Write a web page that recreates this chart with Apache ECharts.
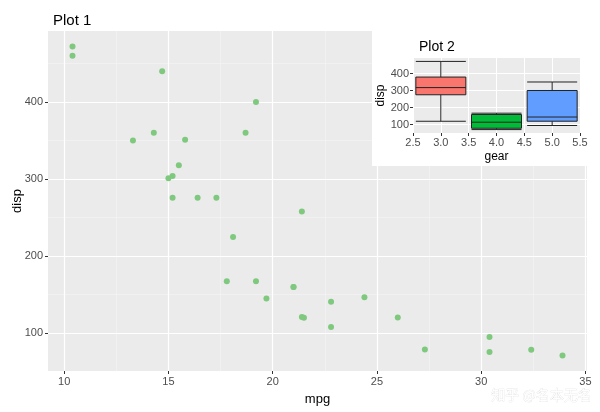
<!DOCTYPE html>
<html>
<head>
<meta charset="UTF-8">
<script src="https://cdn.jsdelivr.net/npm/echarts@6/dist/echarts.min.js"></script>
<style>body{margin:0}#main{width:600px;height:412px}</style>
</head>
<body>
<div id="main"></div>
<script>
var mpg = [21.0,21.0,22.8,21.4,18.7,18.1,14.3,24.4,22.8,19.2,17.8,16.4,17.3,15.2,10.4,10.4,14.7,32.4,30.4,33.9,21.5,15.5,15.2,13.3,19.2,27.3,26.0,30.4,15.8,19.7,15.0,21.4];
var disp = [160,160,108,258,360,225,360,146.7,140.8,167.6,167.6,275.8,275.8,275.8,472,460,440,78.7,75.7,71.1,120.1,318,304,350,400,79,120.3,95.1,351,145,301,121];
var gears = ['3', '4', '5'];
// [min, Q1, median, Q3, max]
var boxStats = [
  [120.1, 275.8, 318, 380, 472],
  [71.1, 78.9, 114.5, 160, 167.6],
  [95.1, 120.3, 145, 301, 351]
];
var boxColors = ['#F8766D', '#00BA38', '#619CFF'];
var mpgTicks = [10, 15, 20, 25, 30, 35];
var mpgMinor = [12.5, 17.5, 22.5, 27.5, 32.5];
var dispTicks = [100, 200, 300, 400];
var dispMinor = [50, 150, 250, 350, 450];
var insetDispTicks = [100, 200, 300, 400];

var points = mpg.map(function (m, i) { return [m, disp[i]]; });
var font = 'Liberation Sans';
var chart = echarts.init(document.getElementById('main'));
var lbl = {color: '#4d4d4d', fontSize: 11, fontFamily: font};
var minorAxis = function (grid, vals, min, max) {
  return {type: 'value', gridIndex: grid, min: min, max: max, axisLine: {show: false},
    axisTick: {show: true, length: 0, customValues: vals}, axisLabel: {show: false, customValues: vals},
    splitLine: {lineStyle: {color: '#f4f4f4', width: 0.7}}};
};
chart.setOption({
  backgroundColor: '#fff',
  animation: false,
  textStyle: {fontFamily: font},
  title: [
    {text: 'Plot 1', left: 48, top: 8, textStyle: {fontSize: 15, fontWeight: 'normal', color: '#000'}},
    {text: 'Plot 2', left: 414, top: 35, textStyle: {fontSize: 14, fontWeight: 'normal', color: '#000'}}
  ],
  grid: [
    {left: 48, right: 13, top: 31, bottom: 41, show: true, backgroundColor: '#EBEBEB', borderWidth: 0, containLabel: false, outerBoundsMode: 'none'},
    {left: 413, right: 20, top: 58, bottom: 279, show: true, backgroundColor: '#EBEBEB', borderWidth: 0, z: 5, containLabel: false, outerBoundsMode: 'none'}
  ],
  xAxis: [
    {type: 'value', gridIndex: 0, min: 9.225, max: 35.075,
     name: 'mpg', nameLocation: 'middle', nameGap: 22, nameTextStyle: {fontSize: 13, color: '#000'},
     axisLine: {show: false}, axisTick: {lineStyle: {color: '#333'}, length: 3, customValues: mpgTicks},
     axisLabel: Object.assign({margin: 5, customValues: mpgTicks}, lbl),
     splitLine: {lineStyle: {color: '#fff', width: 1.2}}, z: 3},
    minorAxis(0, mpgMinor, 9.225, 35.075),
    {type: 'category', gridIndex: 1, data: gears, show: false, boundaryGap: true},
    {type: 'value', gridIndex: 1, min: 2.5, max: 5.5, interval: 0.5, position: 'bottom',
     name: 'gear', nameLocation: 'middle', nameGap: 18, nameTextStyle: {fontSize: 12, color: '#000'},
     axisLine: {show: false}, axisTick: {lineStyle: {color: '#333'}, length: 3},
     axisLabel: Object.assign({margin: 4, formatter: function (v) { return v.toFixed(1); }}, lbl),
     splitLine: {lineStyle: {color: '#fff'}}, z: 6}
  ],
  yAxis: [
    {type: 'value', gridIndex: 0, min: 51.06, max: 492.05,
     name: 'disp', nameLocation: 'middle', nameGap: 24, nameMoveOverlap: false, nameTextStyle: {fontSize: 13, color: '#000'},
     axisLine: {show: false}, axisTick: {lineStyle: {color: '#333'}, length: 3, customValues: dispTicks},
     axisLabel: Object.assign({margin: 5, customValues: dispTicks}, lbl),
     splitLine: {lineStyle: {color: '#fff', width: 1.2}}, z: 3},
    minorAxis(0, dispMinor, 51.06, 492.05),
    {type: 'value', gridIndex: 1, min: 51.06, max: 492.05,
     name: 'disp', nameLocation: 'middle', nameGap: 26, nameTextStyle: {fontSize: 12, color: '#000'},
     axisLine: {show: false}, axisTick: {lineStyle: {color: '#333'}, length: 3, customValues: insetDispTicks},
     axisLabel: Object.assign({margin: 4, customValues: insetDispTicks}, lbl),
     splitLine: {lineStyle: {color: '#fff'}}, z: 6}
  ],
  graphic: [
    {type: 'rect', shape: {x: 372, y: 0, width: 228, height: 166}, style: {fill: '#fff'}, z: 1, zlevel: 0},
    {type: 'text', right: 8, bottom: 10, style: {text: '知乎 @名本无名', fill: 'rgba(255,255,255,0.9)', fontSize: 14, fontFamily: 'Noto Sans CJK SC', stroke: 'rgba(0,0,0,0.15)', lineWidth: 0.5}, z: 100}
  ],
  series: [
    {type: 'scatter', xAxisIndex: 0, yAxisIndex: 0, data: points, symbolSize: 6, z: 4,
     itemStyle: {color: '#7FC97F', opacity: 1}},
    {type: 'boxplot', xAxisIndex: 2, yAxisIndex: 2, boxWidth: [50, 50], z: 10,
     data: boxStats.map(function (s, i) {
       return {value: s, itemStyle: {color: boxColors[i], borderColor: '#222', borderWidth: 1}};
     })}
  ]
});
</script>
</body>
</html>
